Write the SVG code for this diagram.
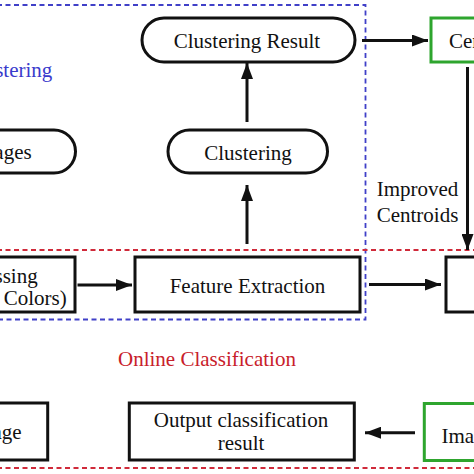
<svg xmlns="http://www.w3.org/2000/svg" width="474" height="474" viewBox="0 0 474 474">
<defs>
<style>
text{font-family:"Liberation Serif","Times New Roman",serif;font-size:21px;fill:#111}
.box{fill:#fff;stroke:#111;stroke-width:3}
.green{fill:#fff;stroke:#2ea52e;stroke-width:3}
.conn{stroke:#111;stroke-width:3;fill:none}
.blue{fill:none;stroke:#4040c8;stroke-width:1.8;stroke-dasharray:5 3.5}
.red{fill:none;stroke:#d02a3a;stroke-width:1.8;stroke-dasharray:5 3.5}
</style>
<marker id="ah" markerWidth="16" markerHeight="12" refX="16" refY="6" orient="auto" markerUnits="userSpaceOnUse">
<path d="M0,0 L16,6 L0,12 Z" fill="#111"/>
</marker>
</defs>
<rect width="474" height="474" fill="#fff"/>
<g id="regions">
<rect class="blue" x="-20" y="5" width="385.5" height="314.5"/>
<rect class="red" x="-20" y="250" width="514" height="218"/>
<text x="52.3" y="77" text-anchor="end" style="fill:#3a3acc">Offline Clustering</text>
<text x="118" y="366" style="fill:#c8202a">Online Classification</text>
</g>
<g id="connectors">
<line class="conn" x1="247" y1="122" x2="247" y2="63" marker-end="url(#ah)"/>
<line class="conn" x1="247" y1="244" x2="247" y2="185" marker-end="url(#ah)"/>
<line class="conn" x1="362" y1="40.5" x2="428" y2="40.5" marker-end="url(#ah)"/>
<line class="conn" x1="467.5" y1="67" x2="467.5" y2="250" marker-end="url(#ah)"/>
<line class="conn" x1="77.5" y1="285" x2="132" y2="285" marker-end="url(#ah)"/>
<line class="conn" x1="369" y1="284.5" x2="441" y2="284.5" marker-end="url(#ah)"/>
<line class="conn" x1="415" y1="432.7" x2="365" y2="432.7" marker-end="url(#ah)"/>
<text x="417.5" y="196" text-anchor="middle">Improved</text>
<text x="417.5" y="221.5" text-anchor="middle">Centroids</text>
</g>
<g id="images">
<rect class="box" x="-80" y="130" width="155.5" height="43" rx="21.5"/>
<text x="31.7" y="159" text-anchor="end">Images</text>
</g>
<g id="clustering">
<rect class="box" x="168" y="130" width="159.5" height="43" rx="21.5"/>
<text x="248" y="160" text-anchor="middle">Clustering</text>
</g>
<g id="clustering-result">
<rect class="box" x="142" y="18" width="213" height="44" rx="22"/>
<text x="247" y="48" text-anchor="middle">Clustering Result</text>
</g>
<g id="centroids">
<rect class="green" x="431" y="18" width="80" height="44"/>
<text x="449" y="48.3">Centroids</text>
</g>
<g id="preprocessing">
<rect class="box" x="-120" y="257" width="195" height="55"/>
<text x="37.7" y="283.3" text-anchor="end">Preprocessing</text>
<text x="66.7" y="304.5" text-anchor="end">(Reduce Colors)</text>
</g>
<g id="feature-extraction">
<rect class="box" x="135" y="257" width="225" height="55"/>
<text x="247.5" y="293" text-anchor="middle">Feature Extraction</text>
</g>
<g id="classifier">
<rect class="box" x="446" y="257" width="80" height="55"/>
</g>
<g id="input-image">
<rect class="box" x="-120" y="403" width="167.7" height="57"/>
<text x="21.7" y="438.5" text-anchor="end">Image</text>
</g>
<g id="output">
<rect class="box" x="129.3" y="403" width="225" height="57"/>
<text x="241" y="427" text-anchor="middle">Output classification</text>
<text x="241" y="450" text-anchor="middle">result</text>
</g>
<g id="image-right">
<rect class="green" x="424.3" y="403.5" width="80" height="57"/>
<text x="441.5" y="443">Image</text>
</g>
</svg>
